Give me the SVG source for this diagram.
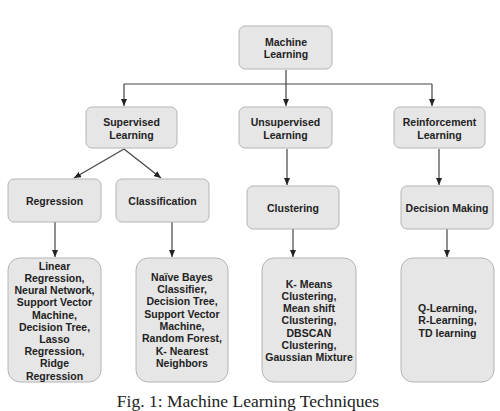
<svg xmlns="http://www.w3.org/2000/svg" width="500" height="411" viewBox="0 0 500 411">
<style>
.box{fill:#e6e6e6;stroke:#b4b4b4;stroke-width:1}
.t{font-family:"Liberation Sans",Arial,sans-serif;font-weight:bold;font-size:10.5px;fill:#222;text-anchor:middle}
.c{fill:none;stroke:#444;stroke-width:1.2}
.cap{font-family:"Liberation Serif","Times New Roman",serif;font-size:17.5px;fill:#222;text-anchor:middle}
</style>
<defs>
<marker id="ah" markerWidth="7" markerHeight="6" refX="7" refY="3" orient="auto" markerUnits="userSpaceOnUse">
<path d="M0,0 L7,3 L0,6 z" fill="#222"/>
</marker>
</defs>
<rect width="500" height="411" fill="#fff"/>
<g id="connectors">
<path class="c" d="M286,70 V106" marker-end="url(#ah)"/>
<path class="c" d="M124,84 H432"/>
<path class="c" d="M124,84 V106" marker-end="url(#ah)"/>
<path class="c" d="M432,84 V106" marker-end="url(#ah)"/>
<path class="c" d="M124,149 L74,178" marker-end="url(#ah)"/>
<path class="c" d="M124,149 L161,178" marker-end="url(#ah)"/>
<path class="c" d="M287,149 V185" marker-end="url(#ah)"/>
<path class="c" d="M439,149 V185" marker-end="url(#ah)"/>
<path class="c" d="M55,222 V257" marker-end="url(#ah)"/>
<path class="c" d="M172,222 V257" marker-end="url(#ah)"/>
<path class="c" d="M293,229 V257" marker-end="url(#ah)"/>
<path class="c" d="M447,229 V257" marker-end="url(#ah)"/>
</g>
<g id="ml">
<rect class="box" x="239" y="26" width="93" height="43" rx="6"/>
<text class="t" x="286" y="45.5">Machine</text>
<text class="t" x="286" y="57.5">Learning</text>
</g>
<g id="supervised">
<rect class="box" x="86" y="107" width="91" height="41" rx="6"/>
<text class="t" x="131.5" y="125.5">Supervised</text>
<text class="t" x="131.5" y="138.5">Learning</text>
</g>
<g id="unsupervised">
<rect class="box" x="239" y="107" width="93" height="41" rx="6"/>
<text class="t" x="285.5" y="125.5">Unsupervised</text>
<text class="t" x="285.5" y="138.5">Learning</text>
</g>
<g id="reinforcement">
<rect class="box" x="394" y="107" width="91" height="41" rx="6"/>
<text class="t" x="439.5" y="125.5">Reinforcement</text>
<text class="t" x="439.5" y="138.5">Learning</text>
</g>
<g id="regression">
<rect class="box" x="8" y="179" width="93" height="43" rx="6"/>
<text class="t" x="54.5" y="204.7">Regression</text>
</g>
<g id="classification">
<rect class="box" x="116" y="179" width="93" height="43" rx="6"/>
<text class="t" x="162.5" y="204.7">Classification</text>
</g>
<g id="clustering">
<rect class="box" x="247" y="186" width="92" height="43" rx="6"/>
<text class="t" x="293" y="211.7">Clustering</text>
</g>
<g id="decision">
<rect class="box" x="401" y="186" width="92" height="43" rx="6"/>
<text class="t" x="447" y="211.7">Decision Making</text>
</g>
<g id="leaf-regression">
<rect class="box" x="8" y="258" width="93" height="124" rx="12"/>
<text class="t" x="54.5" y="269.7">Linear</text>
<text class="t" x="54.5" y="281.9">Regression,</text>
<text class="t" x="54.5" y="294.1">Neural Network,</text>
<text class="t" x="54.5" y="306.3">Support Vector</text>
<text class="t" x="54.5" y="318.5">Machine,</text>
<text class="t" x="54.5" y="330.7">Decision Tree,</text>
<text class="t" x="54.5" y="342.9">Lasso</text>
<text class="t" x="54.5" y="355.1">Regression,</text>
<text class="t" x="54.5" y="367.3">Ridge</text>
<text class="t" x="54.5" y="379.5">Regression</text>
</g>
<g id="leaf-classification">
<rect class="box" x="136" y="258" width="92" height="124" rx="12"/>
<text class="t" x="182" y="280.7">Naïve Bayes</text>
<text class="t" x="182" y="293">Classifier,</text>
<text class="t" x="182" y="305.3">Decision Tree,</text>
<text class="t" x="182" y="317.6">Support Vector</text>
<text class="t" x="182" y="329.9">Machine,</text>
<text class="t" x="182" y="342.2">Random Forest,</text>
<text class="t" x="182" y="354.5">K- Nearest</text>
<text class="t" x="182" y="366.8">Neighbors</text>
</g>
<g id="leaf-clustering">
<rect class="box" x="262" y="258" width="94" height="124" rx="12"/>
<text class="t" x="309" y="287.7">K- Means</text>
<text class="t" x="309" y="299.9">Clustering,</text>
<text class="t" x="309" y="312.1">Mean shift</text>
<text class="t" x="309" y="324.3">Clustering,</text>
<text class="t" x="309" y="336.5">DBSCAN</text>
<text class="t" x="309" y="348.7">Clustering,</text>
<text class="t" x="309" y="360.9">Gaussian Mixture</text>
</g>
<g id="leaf-decision">
<rect class="box" x="401" y="258" width="93" height="124" rx="12"/>
<text class="t" x="447.5" y="311.7">Q-Learning,</text>
<text class="t" x="447.5" y="324.2">R-Learning,</text>
<text class="t" x="447.5" y="336.7">TD learning</text>
</g>
<text class="cap" x="248" y="406.5">Fig. 1: Machine Learning Techniques</text>
</svg>
